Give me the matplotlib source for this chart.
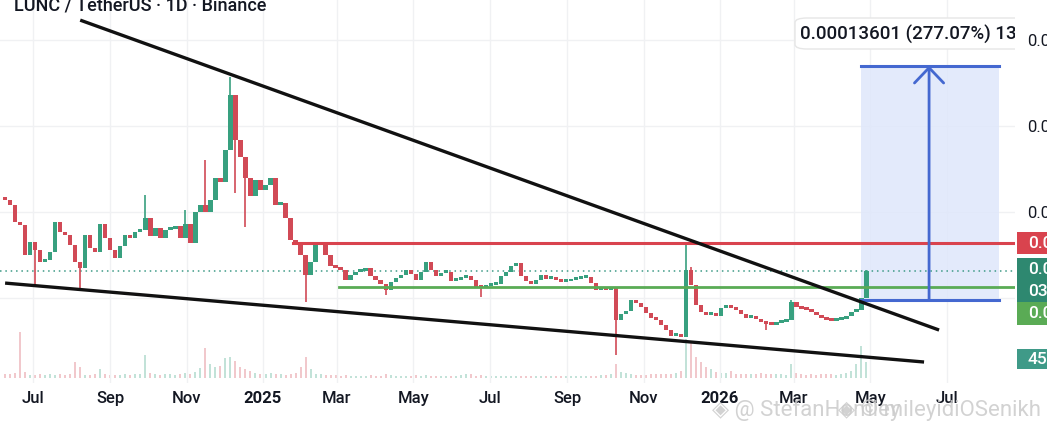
import datetime as dt
import numpy as np
import matplotlib
matplotlib.use("Agg")
import matplotlib.pyplot as plt
import matplotlib.dates as mdates
from matplotlib.patches import Rectangle, FancyBboxPatch

plt.rcParams['font.family'] = ['Roboto', 'DejaVu Sans']

W, H = 1047, 436

# 4-day candles, prices in units of 1e-5 USDT
first_day = dt.date(2024, 6, 9)
step_days = 4
first_open = 10.90
closes = [
    10.70, 10.41, 9.42, 9.24, 7.50, 8.26, 7.79, 7.09, 7.21, 7.67,
    9.42, 8.84, 8.66, 8.08, 7.09, 6.74, 8.66, 7.91, 7.67, 9.30,
    8.49, 7.79, 7.33, 8.02, 8.66, 8.49, 8.84, 8.95, 9.65, 8.60,
    9.07, 8.49, 8.95, 9.02, 9.19, 8.49, 9.30, 8.20, 10.00, 10.41,
    10.00, 10.70, 11.98, 11.74, 13.60, 16.80, 14.19, 13.20, 11.98, 10.93,
    11.86, 11.28, 11.57, 11.98, 10.41, 10.52, 9.65, 8.37, 8.14, 7.50,
    6.34, 7.09, 8.08, 8.14, 7.50, 6.86, 6.74, 6.63, 6.05, 6.34,
    6.51, 6.57, 6.74, 6.28, 6.05, 5.81, 5.47, 5.93, 6.16, 6.34,
    6.63, 6.40, 6.05, 6.51, 7.09, 6.63, 6.28, 6.45, 6.51, 5.99,
    6.05, 6.16, 6.28, 6.05, 5.64, 5.58, 5.70, 5.76, 5.80, 6.28,
    6.51, 6.86, 7.03, 6.28, 5.99, 5.81, 6.05, 6.34, 6.10, 6.16,
    6.05, 5.93, 5.97, 6.05, 6.10, 6.16, 6.22, 5.87, 5.47, 5.52,
    5.47, 5.64, 3.72, 4.07, 4.24, 4.88, 4.71, 4.48, 4.13, 3.84,
    3.72, 3.43, 3.14, 2.79, 2.85, 2.76, 6.63, 5.76, 4.59, 4.19,
    4.01, 4.13, 3.95, 4.42, 4.59, 4.42, 4.30, 4.07, 3.84, 3.90,
    3.78, 3.60, 3.49, 3.43, 3.55, 3.60, 3.72, 4.77, 4.48, 4.36,
    4.30, 4.19, 4.01, 3.84, 3.72, 3.68, 3.75, 3.78, 3.95, 4.19,
    4.30, 5.00, 6.57,
]
spike_high = {28: 10.99, 36: 10.12, 40: 13.02, 45: 17.85, 136: 8.20,
              137: 6.80, 157: 4.88, 172: 6.63}
spike_low = {6: 5.76, 15: 5.58, 46: 11.10, 48: 9.13, 60: 4.77, 76: 5.17,
             95: 5.06, 122: 1.69, 152: 3.14}
volume_m = [
    12, 10, 14, 130, 18, 9, 8, 10, 9, 11,
    8, 10, 9, 12, 45, 30, 9, 8, 10, 25,
    10, 9, 8, 8, 10, 9, 12, 11, 65, 14,
    10, 9, 11, 12, 9, 10, 14, 12, 18, 28,
    85, 40, 30, 35, 55, 60, 48, 30, 25, 20,
    15, 12, 10, 14, 12, 10, 9, 12, 14, 30,
    60, 25, 12, 10, 9, 8, 8, 7, 8, 7,
    7, 6, 7, 8, 6, 7, 10, 8, 7, 7,
    6, 6, 8, 7, 9, 7, 6, 6, 7, 6,
    6, 8, 10, 12, 7, 8, 7, 6, 7, 6,
    6, 7, 6, 6, 7, 6, 6, 7, 6, 6,
    6, 7, 6, 7, 6, 7, 6, 6, 7, 8,
    8, 10, 40, 18, 14, 10, 9, 8, 9, 10,
    11, 12, 10, 12, 14, 20, 110, 100, 60, 45,
    30, 25, 18, 15, 14, 20, 12, 10, 12, 10,
    10, 14, 12, 10, 12, 10, 9, 40, 14, 10,
    9, 10, 9, 10, 12, 10, 9, 12, 14, 20,
    40, 90, 45,
]

month_ticks = [dt.date(2024, 7, 1), dt.date(2024, 9, 1), dt.date(2024, 11, 1),
               dt.date(2025, 1, 1), dt.date(2025, 3, 1), dt.date(2025, 5, 1),
               dt.date(2025, 7, 1), dt.date(2025, 9, 1), dt.date(2025, 11, 1),
               dt.date(2026, 1, 1), dt.date(2026, 3, 1), dt.date(2026, 5, 1),
               dt.date(2026, 7, 1)]
month_labels = ['Jul', 'Sep', 'Nov', '2025', 'Mar', 'May', 'Jul', 'Sep', 'Nov',
                '2026', 'Mar', 'May', 'Jul']
price_ticks = [5, 10, 15, 20]
labelled_ticks = [10, 15, 20]   # the 0.00005 label is hidden behind the tags

upper_trend_dates = [dt.date(2024, 8, 8), dt.date(2026, 6, 25)]
upper_trend_prices = [21.16, 3.14]
lower_trend_dates = [dt.date(2024, 6, 9), dt.date(2026, 6, 13)]
lower_trend_prices = [5.87, 1.28]
resistance_from, resistance_price = dt.date(2025, 1, 25), 8.20
support_from, support_price = dt.date(2025, 3, 3), 5.64
last_price = 6.57
measure_from, measure_to = dt.date(2026, 4, 24), dt.date(2026, 8, 12)
measure_arrow_day = dt.date(2026, 6, 17)
measure_base, measure_move = 4.909, 13.601

UP, DOWN = '#38a07f', '#d14a56'

# ---------------------------------------------------------------
fig = plt.figure(figsize=(W / 100, H / 100), dpi=100)
fig.patch.set_facecolor('white')

ax_rect = [0, (H - 383) / H, 1015 / W, 383 / H]
vol_rect = [0, (H - 378) / H, 1015 / W, 378 / H]
vax = fig.add_axes(vol_rect, zorder=0)
ax = fig.add_axes(ax_rect, zorder=1)
ax.patch.set_alpha(0)

ref = mdates.date2num(dt.date(2025, 1, 1))
xlim = (ref - 263 / 1.252, ref + (1015 - 263) / 1.252)

dates = [first_day + dt.timedelta(days=step_days * i) for i in range(len(closes))]
x = mdates.date2num(dates)
c = np.array(closes)
o = np.r_[first_open, c[:-1]]
hi = np.maximum(o, c)
lo = np.minimum(o, c)
for i, v in spike_high.items():
    hi[i] = v
for i, v in spike_low.items():
    lo[i] = v
col = np.where(c >= o, UP, DOWN)

# volume
vax.bar(x, volume_m, width=1.6, color=col, alpha=0.3, linewidth=0)
vax.set_xlim(*xlim)
vax.set_ylim(0, 1063)
vax.axis('off')

# grid + axes
ax.set_xlim(*xlim)
ax.set_ylim(0.06, 22.33)
for s in ax.spines.values():
    s.set_visible(False)
ax.set_xticks(mdates.date2num(month_ticks))
ax.set_xticklabels(month_labels)
ax.tick_params(axis='x', length=0, pad=6, labelsize=12, labelcolor='#131722')
for t in ax.get_xticklabels():
    t.set_fontweight('bold' if t.get_text().startswith('20') else 'medium')
ax.yaxis.tick_right()
ax.set_yticks(price_ticks)
ax.set_yticklabels(['%.8f' % (v * 1e-5) if v in labelled_ticks else ''
                    for v in price_ticks])
ax.tick_params(axis='y', length=0, pad=9, labelsize=12, labelcolor='#131722')
ax.grid(True, color='#f0f1f3', lw=1)
ax.set_axisbelow(True)

# candles
ax.axhline(last_price, color='#3d9a86', lw=1.1, ls=(0, (1, 2.5)), zorder=2)
ax.vlines(x, lo, hi, colors=col, lw=1.2, zorder=3)
body = np.maximum(np.abs(c - o), 0.16)
ax.bar(x, body, bottom=np.minimum(o, c), width=3.5, color=col, linewidth=0, zorder=3)

# horizontal levels
ax.plot([mdates.date2num(resistance_from), xlim[1]], [resistance_price] * 2,
        color='#d9434e', lw=2.2, zorder=4)
ax.plot([mdates.date2num(support_from), xlim[1]], [support_price] * 2,
        color='#5aab55', lw=2.0, zorder=4)

# measure box
m0, m1 = mdates.date2num(measure_from), mdates.date2num(measure_to)
top = measure_base + measure_move
ax.add_patch(Rectangle((m0, measure_base), m1 - m0, measure_move,
                       facecolor='#dfe7fb', edgecolor='none', alpha=0.85, zorder=1))
ax.plot([m0, m1], [top, top], color='#4468d0', lw=2.2, zorder=5)
ax.plot([m0, m1], [measure_base, measure_base], color='#4468d0', lw=2.2, zorder=5)
ma = mdates.date2num(measure_arrow_day)
ax.annotate('', xy=(ma, top), xytext=(ma, measure_base),
            arrowprops=dict(arrowstyle='->,head_length=1.1,head_width=1.05',
                            color='#4468d0', lw=2.0, shrinkA=0, shrinkB=0,
                            mutation_scale=10), zorder=6)

# trendlines
ax.plot(mdates.date2num(upper_trend_dates), upper_trend_prices, color='#111111',
        lw=2.4, solid_capstyle='butt', zorder=6)
ax.plot(mdates.date2num(lower_trend_dates), lower_trend_prices, color='#111111',
        lw=2.4, solid_capstyle='butt', zorder=6)

# measure label (cut by the price scale)
box = FancyBboxPatch((795 / 1015, 1 - 49 / 383), 240 / 1015, 31 / 383,
                     boxstyle='round,pad=0,rounding_size=0.012',
                     transform=ax.transAxes, facecolor='white',
                     edgecolor='#e6e6e6', lw=1, zorder=7)
ax.add_patch(box)
ax.text(800 / 1015, 1 - 34 / 383, '0.00013601 (277.07%) 13,601', transform=ax.transAxes,
        fontsize=13.5, fontweight='medium', color='#131722', va='center', ha='left',
        zorder=8, clip_on=True)


# price-scale tags
def tag(y0, y1, color, lines):
    fig.add_artist(Rectangle((1017 / W, 1 - y1 / H), 60 / W, (y1 - y0) / H,
                             transform=fig.transFigure, facecolor=color,
                             edgecolor='none'))
    n = len(lines)
    for k, s in enumerate(lines):
        yc = y0 + (y1 - y0) * (k + 0.5) / n
        fig.text(1028 / W, 1 - yc / H, s, color='white', fontsize=12.5,
                 va='center', ha='left', fontweight='medium')


tag(232, 254, '#d9434e', ['%.8f' % (resistance_price * 1e-5)])
tag(258, 302, '#2e8870', ['%.8f' % (last_price * 1e-5), '03:12:41'])
tag(302, 325, '#5aab55', ['%.8f' % (support_price * 1e-5)])
tag(349, 369, '#3f9a88', ['45.21M'])

# title
fig.text(14 / W, 1 - 11 / H, 'LUNC / TetherUS · 1D · Binance', fontsize=13,
         fontweight='medium', color='#131722', va='baseline', ha='left')

# watermarks
for wx, s in [(712, '◈ @ StefanHomley'), (838, '◈ © mileyidiOSenikh')]:
    fig.text(wx / W, 1 - 410 / H, s, fontsize=16, color='#cbcbcb', alpha=0.85,
             va='center', ha='left', family=['Roboto', 'DejaVu Sans'])

fig.savefig('out.png', dpi=100)
